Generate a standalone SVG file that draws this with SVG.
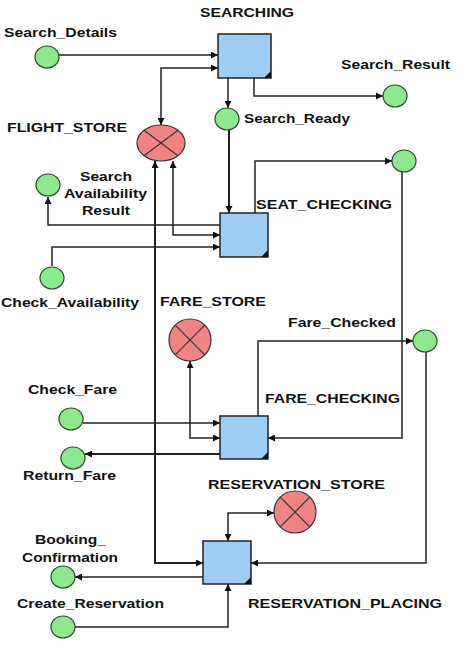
<svg xmlns="http://www.w3.org/2000/svg" width="474" height="647" viewBox="0 0 474 647">
<defs>
<style>
.lbl{font-family:"Liberation Sans",Arial,sans-serif;font-weight:bold;font-size:13px;fill:#111}
.con{fill:none;stroke:#222;stroke-width:1.5}
.thick{stroke-width:2}
.ev{fill:#8ee88e;stroke:#2a4a2a;stroke-width:1.2}
.proc{fill:#9dcdf5;stroke:#222;stroke-width:1.5}
.store{fill:#f08484;stroke:#333;stroke-width:1.2}
.x{stroke:#333;stroke-width:1.2}
.corner{fill:#111}
</style>
<marker id="ah" viewBox="0 0 7 7" markerWidth="7" markerHeight="7" refX="7" refY="3.5" orient="auto-start-reverse" markerUnits="userSpaceOnUse">
<path d="M0,0 L7,3.5 L0,7 z" fill="#111"/>
</marker>
</defs>
<rect width="474" height="647" fill="#fff"/>

<g id="connectors">
<path class="con" d="M59,55 H218" marker-end="url(#ah)"/>
<path class="con" d="M161,125 V68 H218" marker-start="url(#ah)" marker-end="url(#ah)"/>
<path class="con" d="M254,78 V96 H383" marker-end="url(#ah)"/>
<path class="con" d="M228,78 V108" marker-end="url(#ah)"/>
<path class="con thick" d="M229,130 V213" marker-end="url(#ah)"/>
<path class="con" d="M220,225 H48 V197" marker-end="url(#ah)"/>
<path class="con" d="M173,161 V235 H220" marker-start="url(#ah)" marker-end="url(#ah)"/>
<path class="con" d="M52,266 V247 H220" marker-end="url(#ah)"/>
<path class="con" d="M255,213 V161 H392" marker-end="url(#ah)"/>
<path class="con" d="M402,172 V438 H268" marker-end="url(#ah)"/>
<path class="con thick" d="M155,161 V563 H203" marker-start="url(#ah)" marker-end="url(#ah)"/>
<path class="con" d="M83,423 H220" marker-end="url(#ah)"/>
<path class="con" d="M190,361 V438 H220" marker-start="url(#ah)" marker-end="url(#ah)"/>
<path class="con thick" d="M220,454 H85" marker-end="url(#ah)"/>
<path class="con" d="M258,416 V341 H413" marker-end="url(#ah)"/>
<path class="con" d="M426,352 V563 H251" marker-end="url(#ah)"/>
<path class="con" d="M228,541 V513 H274" marker-start="url(#ah)" marker-end="url(#ah)"/>
<path class="con" d="M203,577 H75" marker-end="url(#ah)"/>
<path class="con" d="M75,627 H228 V584" marker-end="url(#ah)"/>
</g>

<g id="SEARCHING">
<rect class="proc" x="218" y="34" width="53" height="44"/>
<polygon class="corner" points="264,78 271,71 271,78"/>
<text class="lbl" x="200" y="17" textLength="94" lengthAdjust="spacingAndGlyphs">SEARCHING</text>
</g>
<g id="SEAT_CHECKING">
<rect class="proc" x="220" y="213" width="48" height="44"/>
<polygon class="corner" points="261,257 268,250 268,257"/>
<text class="lbl" x="256" y="209" textLength="136" lengthAdjust="spacingAndGlyphs">SEAT_CHECKING</text>
</g>
<g id="FARE_CHECKING">
<rect class="proc" x="220" y="416" width="48" height="43"/>
<polygon class="corner" points="261,459 268,452 268,459"/>
<text class="lbl" x="265" y="403" textLength="135" lengthAdjust="spacingAndGlyphs">FARE_CHECKING</text>
</g>
<g id="RESERVATION_PLACING">
<rect class="proc" x="203" y="541" width="48" height="43"/>
<polygon class="corner" points="244,584 251,577 251,584"/>
<text class="lbl" x="248" y="608" textLength="194" lengthAdjust="spacingAndGlyphs">RESERVATION_PLACING</text>
</g>

<g id="FLIGHT_STORE">
<ellipse class="store" cx="161" cy="143" rx="24" ry="18"/>
<line class="x" x1="144" y1="130.3" x2="178" y2="155.7"/>
<line class="x" x1="144" y1="155.7" x2="178" y2="130.3"/>
<text class="lbl" x="7" y="132" textLength="120" lengthAdjust="spacingAndGlyphs">FLIGHT_STORE</text>
</g>
<g id="FARE_STORE">
<circle class="store" cx="190" cy="340" r="21"/>
<line class="x" x1="175.2" y1="325.2" x2="204.8" y2="354.8"/>
<line class="x" x1="175.2" y1="354.8" x2="204.8" y2="325.2"/>
<text class="lbl" x="160" y="306" textLength="106" lengthAdjust="spacingAndGlyphs">FARE_STORE</text>
</g>
<g id="RESERVATION_STORE">
<circle class="store" cx="295" cy="512" r="21"/>
<line class="x" x1="280.2" y1="497.2" x2="309.8" y2="526.8"/>
<line class="x" x1="280.2" y1="526.8" x2="309.8" y2="497.2"/>
<text class="lbl" x="208" y="489" textLength="177" lengthAdjust="spacingAndGlyphs">RESERVATION_STORE</text>
</g>

<g id="Search_Details">
<ellipse class="ev" cx="47" cy="57" rx="12" ry="11"/>
<text class="lbl" x="4" y="37" textLength="113" lengthAdjust="spacingAndGlyphs">Search_Details</text>
</g>
<g id="Search_Result">
<ellipse class="ev" cx="395" cy="96" rx="12" ry="11"/>
<text class="lbl" x="341" y="69" textLength="109" lengthAdjust="spacingAndGlyphs">Search_Result</text>
</g>
<g id="Search_Ready">
<ellipse class="ev" cx="227" cy="119" rx="12" ry="11"/>
<text class="lbl" x="244" y="123" textLength="106" lengthAdjust="spacingAndGlyphs">Search_Ready</text>
</g>
<g id="Search_Availability_Result">
<ellipse class="ev" cx="48" cy="185" rx="12" ry="11"/>
<text class="lbl" x="80" y="181" textLength="52" lengthAdjust="spacingAndGlyphs">Search</text>
<text class="lbl" x="64" y="198" textLength="83" lengthAdjust="spacingAndGlyphs">Availability</text>
<text class="lbl" x="82" y="215" textLength="48" lengthAdjust="spacingAndGlyphs">Result</text>
</g>
<g id="Seat_Checked">
<ellipse class="ev" cx="404" cy="161" rx="12" ry="11"/>
</g>
<g id="Check_Availability">
<ellipse class="ev" cx="52" cy="278" rx="12" ry="11"/>
<text class="lbl" x="1" y="307" textLength="138" lengthAdjust="spacingAndGlyphs">Check_Availability</text>
</g>
<g id="Fare_Checked">
<ellipse class="ev" cx="425" cy="341" rx="12" ry="11"/>
<text class="lbl" x="288" y="327" textLength="108" lengthAdjust="spacingAndGlyphs">Fare_Checked</text>
</g>
<g id="Check_Fare">
<ellipse class="ev" cx="71" cy="419" rx="12" ry="11"/>
<text class="lbl" x="28" y="394" textLength="89" lengthAdjust="spacingAndGlyphs">Check_Fare</text>
</g>
<g id="Return_Fare">
<ellipse class="ev" cx="73" cy="458" rx="12" ry="11"/>
<text class="lbl" x="23" y="480" textLength="93" lengthAdjust="spacingAndGlyphs">Return_Fare</text>
</g>
<g id="Booking_Confirmation">
<ellipse class="ev" cx="63" cy="577" rx="12" ry="11"/>
<text class="lbl" x="35" y="544" textLength="71" lengthAdjust="spacingAndGlyphs">Booking_</text>
<text class="lbl" x="22" y="562" textLength="96" lengthAdjust="spacingAndGlyphs">Confirmation</text>
</g>
<g id="Create_Reservation">
<ellipse class="ev" cx="63" cy="627" rx="12" ry="11"/>
<text class="lbl" x="17" y="608" textLength="147" lengthAdjust="spacingAndGlyphs">Create_Reservation</text>
</g>
</svg>
